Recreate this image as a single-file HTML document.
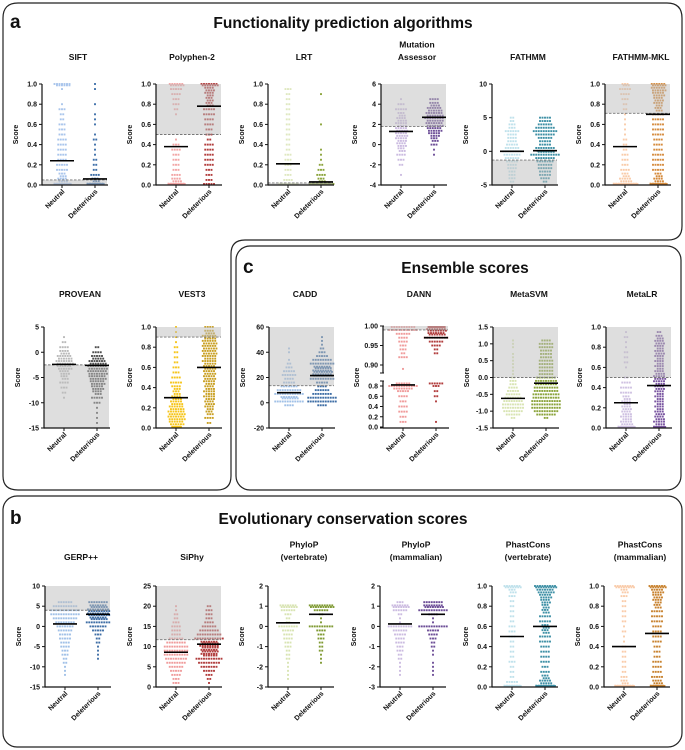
<!DOCTYPE html>
<html><head><meta charset="utf-8">
<style>
html,body{margin:0;padding:0;background:#fff;}
svg{display:block;font-family:"Liberation Sans",Arial,sans-serif;}
.tk{font-size:7px;font-weight:bold;fill:#111;}
.tt{font-size:8.5px;font-weight:bold;fill:#111;}
.sec{font-size:15.5px;font-weight:bold;fill:#111;}
.let{font-size:19px;font-weight:bold;fill:#111;}
</style></head>
<body>
<svg id="fig" width="685" height="750" viewBox="0 0 685 750">
<path d="M18,3 H667 Q682,3 682,18 V226 Q682,240 668,240 H245 Q231,240 231,254 V476 Q231,490 217,490 H18 Q3,490 3,476 V18 Q3,3 18,3 Z" fill="none" stroke="#222" stroke-width="1.2"/>
<rect x="236" y="246" width="445" height="244" rx="14" fill="none" stroke="#222" stroke-width="1.2"/>
<rect x="3" y="496" width="679" height="251" rx="14" fill="none" stroke="#222" stroke-width="1.2"/>
<text class="let" x="10" y="28">a</text>
<text class="sec" x="343" y="28" text-anchor="middle">Functionality prediction algorithms</text>
<text class="let" x="243" y="273">c</text>
<text class="sec" x="465" y="273" text-anchor="middle">Ensemble scores</text>
<text class="let" x="10" y="524">b</text>
<text class="sec" x="343" y="524" text-anchor="middle">Evolutionary conservation scores</text>
</svg>
<script>
// ===== DATA (bin values, point counts per bin, group means, ticks) =====
const unitBins=[0,0.05,0.1,0.15,0.2,0.25,0.3,0.35,0.4,0.45,0.5,0.55,0.6,0.65,0.7,0.75,0.8,0.85,0.9,0.95,1.0];
const unitTicks=[0,0.2,0.4,0.6,0.8,1.0];

const siftNeutral=[14,8,6,5,5,4,4,4,4,4,3,3,3,2,2,3,1,0,0,1,13];
const siftDeleterious=[14,6,4,2,2,2,1,1,1,2,1,0,1,1,1,0,1,0,0,1,1];
const siftMeans=[0.24,0.06];

const polyNeutral=[14,8,4,3,3,3,3,4,3,1,0,0,0,0,1,2,3,3,4,5,12];
const polyDeleterious=[5,3,3,3,4,4,4,4,4,2,3,3,4,4,5,5,6,6,7,8,14];
const polyMeans=[0.38,0.78];

const lrtNeutral=[16,4,3,3,3,3,3,2,2,2,2,2,2,2,2,2,2,2,2,3,0];
const lrtDeleterious=[20,6,4,3,2,1,1,1,0,0,0,0,1,0,0,0,0,0,1,0,0];
const lrtMeans=[0.21,0.03];

const maBins=[-3,-2.5,-2,-1.5,-1,-0.5,0,0.5,1,1.5,2,2.5,3,3.5,4,4.5];
const maNeutral=[1,0,2,3,4,6,8,9,10,10,9,8,6,5,3,1];
const maDeleterious=[0,0,0,0,1,1,3,6,9,12,14,15,14,12,8,4];
const maMeans=[1.3,2.7];
const maTicks=[-4,-2,0,2,4,6];

const fatBins=[-4.5,-4,-3.5,-3,-2.5,-2,-1.5,-1,-0.5,0,0.5,1,1.5,2,2.5,3,3.5,4,4.5,5];
const fatNeutral=[2,3,3,3,4,4,5,6,7,8,6,5,4,4,4,6,3,3,2,2];
const fatDeleterious=[2,4,5,5,6,6,7,8,12,14,8,5,5,6,8,10,8,6,5,5];
const fatMeans=[0,0.1];
const fatTicks=[-5,0,5,10];

const mklNeutral=[20,10,6,4,3,3,3,2,2,2,1,1,1,1,1,2,2,3,4,5,6];
const mklDeleterious=[14,8,6,5,5,5,5,4,4,4,5,5,5,5,5,6,7,8,10,12,12];
const mklMeans=[0.38,0.7];

const provBins=[3,2,1,0,-1,-2,-3,-4,-5,-6,-7,-8,-9,-10,-11,-12,-13,-14];
const provNeutral=[1,2,4,8,12,14,12,8,6,4,3,2,1,0,0,0,0,0];
const provDeleterious=[0,0,2,4,10,14,16,16,14,12,10,7,5,3,1,1,1,1];
const provMeans=[-2.4,-2.6];
const provTicks=[-15,-10,-5,0,5];

const vestNeutral=[8,12,14,14,12,10,8,6,7,5,4,3,3,2,2,2,2,1,1,1,1];
const vestDeleterious=[0,2,4,6,7,8,9,9,8,9,10,10,10,11,11,12,12,12,11,8,4];
const vestMeans=[0.3,0.6];

const caddBins=[-2,1,4,7,10,13,16,19,22,25,28,31,34,37,40,43,46,49,52];
const caddNeutral=[4,12,14,12,10,7,5,4,6,5,3,2,1,0,1,1,0,0,0];
const caddDeleterious=[4,12,12,8,6,4,5,10,16,16,14,10,8,5,3,2,1,1,1];
const caddMeans=[8,21.5];
const caddTicks=[-20,0,20,40,60];

const dannBins=[1.0,0.99,0.98,0.97,0.96,0.95,0.94,0.93,0.92,0.89,0.85,0.8,0.75,0.7,0.6,0.5,0.4,0.3,0.2,0.1];
const dannNeutral=[10,12,6,4,4,3,3,2,4,1,6,12,8,5,4,3,4,4,3,3];
const dannDeleterious=[14,16,14,10,6,4,2,2,0,0,6,3,0,2,2,1,0,0,0,1];
const dannMeans=[0.82,0.97];
const dannTicks=[0,0.2,0.4,0.6,0.8,0.9,0.95,1.0];

const svmBins=[-1.2,-1.1,-1.0,-0.9,-0.8,-0.7,-0.6,-0.5,-0.4,-0.3,-0.2,-0.1,0,0.1,0.2,0.3,0.4,0.5,0.6,0.7,0.8,0.9,1.0,1.1];
const svmNeutral=[2,6,8,9,9,8,7,6,5,4,3,3,2,1,1,1,1,1,1,1,0,1,1,1];
const svmDeleterious=[2,8,10,12,12,12,11,11,10,10,9,9,8,6,6,6,6,6,5,5,5,6,6,4];
const svmMeans=[-0.62,-0.17];
const svmTicks=[-1.5,-1,-0.5,0,0.5,1,1.5];

const lrBins=[0,0.05,0.1,0.15,0.2,0.25,0.3,0.35,0.4,0.45,0.5,0.55,0.6,0.65,0.7,0.75,0.8,0.85,0.9,0.95];
const lrNeutral=[14,10,9,8,8,7,6,5,5,4,2,0,1,2,2,2,1,1,2,1];
const lrDeleterious=[10,9,8,8,7,7,7,7,8,9,10,8,7,7,7,8,7,8,6,2];
const lrMeans=[0.25,0.42];

const gerpBins=[6,5,4,3,2,1,0,-1,-2,-3,-4,-5,-6,-7,-8,-9,-10,-11,-12];
const gerpNeutral=[6,10,12,12,10,8,7,6,5,5,4,4,3,3,2,2,1,1,1];
const gerpDeleterious=[8,14,18,18,14,10,7,5,3,2,2,1,1,1,1,0,0,0,0];
const gerpMeans=[0.6,3];
const gerpTicks=[-15,-10,-5,0,5,10];

const siphyBins=[1,2,3,4,5,6,7,8,9,10,11,12,13,14,15,16,17,18,19,20];
const siphyNeutral=[3,3,4,5,6,8,9,10,10,10,8,6,4,4,4,3,2,2,1,1];
const siphyDeleterious=[1,2,3,5,7,9,11,13,14,15,14,12,10,8,6,4,3,3,3,2];
const siphyMeans=[8.6,10.6];
const siphyTicks=[0,5,10,15,20,25];

const pvBins=[1.0,0.8,0.6,0.4,0.2,0,-0.2,-0.4,-0.6,-0.8,-1.0,-1.2,-1.4,-1.6,-1.8,-2.0,-2.2,-2.4,-2.6];
const pvNeutral=[14,6,3,2,2,8,5,4,4,3,3,2,2,2,1,1,1,1,1];
const pvDeleterious=[20,6,2,1,1,10,4,3,3,2,2,2,1,1,1,0,0,0,0];
const pvMeans=[0.18,0.6];
const phyloTicks=[-3,-2,-1,0,1,2];

const pmBins=[1.2,1.0,0.8,0.6,0.4,0.2,0,-0.2,-0.4,-0.6,-0.8,-1.0,-1.2,-1.4,-1.6,-1.8,-2.0,-2.2,-2.4];
const pmNeutral=[3,14,6,2,1,1,10,6,5,4,4,3,3,2,2,1,1,1,1];
const pmDeleterious=[8,16,12,4,1,1,12,5,4,3,2,2,1,1,0,1,1,1,1];
const pmMeans=[0.12,0.6];

const pcvNeutral=[14,5,2,2,2,3,2,2,2,2,3,3,3,2,2,2,2,2,3,6,14];
const pcvDeleterious=[16,10,6,4,3,4,4,4,4,5,5,6,6,5,5,6,6,8,10,14,18];
const pcvMeans=[0.5,0.6];

const pcmNeutral=[16,6,3,2,2,2,2,2,2,1,1,2,1,2,2,2,2,2,3,6,16];
const pcmDeleterious=[12,8,5,4,4,4,3,3,3,4,4,4,4,5,5,5,6,7,8,10,14];
const pcmMeans=[0.4,0.53];

const categories=["Neutral","Deleterious"];

// ===== RENDER =====
const svg=document.getElementById('fig');
const NS='http://www.w3.org/2000/svg';
function mk(tag,attrs,parent){const e=document.createElementNS(NS,tag);for(const k in attrs)e.setAttribute(k,attrs[k]);(parent||svg).appendChild(e);return e;}

function chart(c){
  const g=mk('g',{});
  
  
  const ax=c.ax,top=c.top,bot=c.bot;
  const y=c.scale||(v=>bot-(v-c.min)/(c.max-c.min)*(bot-top));
  const cx=[ax+20,ax+53];
  const lines=c.title.split('|');
  lines.forEach((t,i)=>{const e=mk('text',{class:'tt',x:ax+36,y:c.ty-(lines.length-1-i)*12.5,'text-anchor':'middle'},g);e.textContent=t;
    });
  [c.neutral,c.deleterious].forEach((counts,gi)=>{
    counts.forEach((n,bi)=>{
      if(!n)return;
      const v=c.bins[bi];const py=y(v);
      const nb=bi+1<c.bins.length?Math.abs(y(c.bins[bi+1])-py):(bi>0?Math.abs(y(c.bins[bi-1])-py):5);
      const h=Math.min(nb,12);
      const rowsMax=Math.max(1,Math.floor(h/2.4));
      const rows=Math.max(Math.ceil(n/12),Math.min(rowsMax,Math.ceil(n/5)));
      for(let r=0;r<rows;r++){
        const k=Math.floor(n/rows)+(r<n%rows?1:0);
        let ry=py+(rows>1?(r/(rows-1)-0.5)*(h-2.4):0);
        ry=Math.max(top,Math.min(bot-1,ry));
        const shift=(r%2)*1.2;
        for(let j=0;j<k;j++){
          const px=cx[gi]+(j-(k-1)/2)*2.5+shift;
          const p=mk('rect',{x:(px-0.95).toFixed(2),y:(ry-0.95).toFixed(2),width:1.9,height:1.9,fill:c.colors[gi]},g);
          
          
        }
      }
    });
  });
  if(c.shade){
    const y1=y(c.shade[1]),y0=y(c.shade[0]);
    const s=mk('rect',{x:ax,y:Math.min(y0,y1),width:65,height:Math.abs(y0-y1),fill:'rgba(190,190,190,0.5)'},g);
    
    const d=mk('line',{x1:ax,x2:ax+65,y1:y(c.cut),y2:y(c.cut),stroke:'#777','stroke-width':0.9,'stroke-dasharray':'2.5,1.5'},g);
    
  }
  c.means.forEach((m,gi)=>{const l=mk('line',{x1:cx[gi]-12,x2:cx[gi]+12,y1:y(m),y2:y(m),stroke:'#000','stroke-width':1.6},g);
    });
  if(c.segments){
    c.segments.forEach(s=>{mk('line',{x1:ax,x2:ax,y1:s[0],y2:s[1],stroke:'#111','stroke-width':1.2},g);
      mk('line',{x1:ax-3,x2:ax+1,y1:s[0],y2:s[0],stroke:'#111','stroke-width':1},g);mk('line',{x1:ax-3,x2:ax+1,y1:s[1],y2:s[1],stroke:'#111','stroke-width':1},g);});
  } else mk('line',{x1:ax,x2:ax,y1:top,y2:bot+0.6,stroke:'#111','stroke-width':1.2},g);
  const xa=mk('line',{x1:ax,x2:ax+66,y1:bot,y2:bot,stroke:'#111','stroke-width':1.2},g);
  
  c.ticks.forEach(t=>{const ty=y(t);mk('line',{x1:ax-3,x2:ax,y1:ty,y2:ty,stroke:'#111','stroke-width':1},g);
    const e=mk('text',{class:'tk',x:ax-5,y:ty+2.5,'text-anchor':'end'},g);
    e.textContent=(c.dec2&&t>=0.9)?t.toFixed(2):t.toFixed(c.dec);
    });
  const sl=mk('text',{class:'tk',x:0,y:0,'text-anchor':'middle',transform:`translate(${ax-24},${(top+bot)/2}) rotate(-90)`},g);
  sl.textContent='Score';
  categories.forEach((cat,gi)=>{mk('line',{x1:cx[gi],x2:cx[gi],y1:bot,y2:bot+3,stroke:'#111','stroke-width':1},g);
    const e=mk('text',{class:'tk','text-anchor':'end',transform:`translate(${cx[gi]+3},${bot+7}) rotate(-45)`},g);
    e.textContent=cat;});
}

const C={sift:['#a9c5ec','#3e6fa9'],poly:['#f2a5a5','#b13c3c'],lrt:['#dfe8c0','#8ba43b'],ma:['#cbbbe0','#6d4e97'],
 fat:['#bfe1eb','#3e90a5'],mkl:['#f9cba9','#d58b3d'],prov:['#b9b9b9','#4e4e4e'],vest:['#f6c51a','#c9a023']};
const T1=84,B1=185,T2=327,B2=428,T3=586,B3=687;
chart({id:'sift',title:'SIFT',ax:42,top:T1,bot:B1,ty:60,min:0,max:1,bins:unitBins,neutral:siftNeutral,deleterious:siftDeleterious,means:siftMeans,ticks:unitTicks,dec:1,colors:C.sift,shade:[0,0.05],cut:0.05});
chart({id:'polyphen2',title:'Polyphen-2',ax:156,top:T1,bot:B1,ty:60,min:0,max:1,bins:unitBins,neutral:polyNeutral,deleterious:polyDeleterious,means:polyMeans,ticks:unitTicks,dec:1,colors:C.poly,shade:[0.5,1],cut:0.5});
chart({id:'lrt',title:'LRT',ax:268,top:T1,bot:B1,ty:60,min:0,max:1,bins:unitBins,neutral:lrtNeutral,deleterious:lrtDeleterious,means:lrtMeans,ticks:unitTicks,dec:1,colors:C.lrt,shade:[0,0.02],cut:0.02});
chart({id:'mutation-assessor',title:'Mutation|Assessor',ax:381,top:T1,bot:B1,ty:60,min:-4,max:6,bins:maBins,neutral:maNeutral,deleterious:maDeleterious,means:maMeans,ticks:maTicks,dec:0,colors:C.ma,shade:[1.8,6],cut:1.8});
chart({id:'fathmm',title:'FATHMM',ax:492,top:T1,bot:B1,ty:60,min:-5,max:10,bins:fatBins,neutral:fatNeutral,deleterious:fatDeleterious,means:fatMeans,ticks:fatTicks,dec:0,colors:C.fat,shade:[-5,-1.3],cut:-1.3});
chart({id:'fathmm-mkl',title:'FATHMM-MKL',ax:605,top:T1,bot:B1,ty:60,min:0,max:1,bins:unitBins,neutral:mklNeutral,deleterious:mklDeleterious,means:mklMeans,ticks:unitTicks,dec:1,colors:C.mkl,shade:[0.71,1],cut:0.71});
chart({id:'provean',title:'PROVEAN',ax:44,top:T2,bot:B2,ty:297,min:-15,max:5,bins:provBins,neutral:provNeutral,deleterious:provDeleterious,means:provMeans,ticks:provTicks,dec:0,colors:C.prov,shade:[-15,-2.5],cut:-2.5});
chart({id:'vest3',title:'VEST3',ax:156,top:T2,bot:B2,ty:297,min:0,max:1,bins:unitBins,neutral:vestNeutral,deleterious:vestDeleterious,means:vestMeans,ticks:unitTicks,dec:1,colors:C.vest,shade:[0.9,1],cut:0.9});
chart({id:'cadd',title:'CADD',ax:269,top:T2,bot:B2,ty:297,min:-20,max:60,bins:caddBins,neutral:caddNeutral,deleterious:caddDeleterious,means:caddMeans,ticks:caddTicks,dec:0,colors:['#a0c0e7','#3f6ea6'],shade:[13.5,60],cut:13.5});
const dannScale=v=>v>=0.875?326+(1-v)*390:427-v*51.25;
chart({id:'dann',title:'DANN',ax:383,top:T2,bot:B2,ty:297,scale:dannScale,segments:[[326,373],[381,428]],bins:dannBins,neutral:dannNeutral,deleterious:dannDeleterious,means:dannMeans,ticks:dannTicks,dec:1,dec2:true,colors:['#f09b9b','#b13c3c'],shade:[0.99,1],cut:0.99});
chart({id:'metasvm',title:'MetaSVM',ax:493,top:T2,bot:B2,ty:297,min:-1.5,max:1.5,bins:svmBins,neutral:svmNeutral,deleterious:svmDeleterious,means:svmMeans,ticks:svmTicks,dec:1,colors:['#d8e4b2','#8ba43b'],shade:[0,1.5],cut:0});
chart({id:'metalr',title:'MetaLR',ax:606,top:T2,bot:B2,ty:297,min:0,max:1,bins:lrBins,neutral:lrNeutral,deleterious:lrDeleterious,means:lrMeans,ticks:unitTicks,dec:1,colors:['#cfc1e2','#7a56a1'],shade:[0.5,1],cut:0.5});
chart({id:'gerp',title:'GERP++',ax:45,top:T3,bot:B3,ty:560,min:-15,max:10,bins:gerpBins,neutral:gerpNeutral,deleterious:gerpDeleterious,means:gerpMeans,ticks:gerpTicks,dec:0,colors:['#a0c0e7','#3f6ea6'],shade:[4,10],cut:4});
chart({id:'siphy',title:'SiPhy',ax:156,top:T3,bot:B3,ty:560,min:0,max:25,bins:siphyBins,neutral:siphyNeutral,deleterious:siphyDeleterious,means:siphyMeans,ticks:siphyTicks,dec:0,colors:['#f09b9b','#b13c3c'],shade:[11.7,25],cut:11.7});
chart({id:'phylop-vertebrate',title:'PhyloP|(vertebrate)',ax:268,top:T3,bot:B3,ty:560,min:-3,max:2,bins:pvBins,neutral:pvNeutral,deleterious:pvDeleterious,means:pvMeans,ticks:phyloTicks,dec:0,colors:['#d8e4b2','#7f9a32']});
chart({id:'phylop-mammalian',title:'PhyloP|(mammalian)',ax:380,top:T3,bot:B3,ty:560,min:-3,max:2,bins:pmBins,neutral:pmNeutral,deleterious:pmDeleterious,means:pmMeans,ticks:phyloTicks,dec:0,colors:['#cbbbe0','#6d4e97']});
chart({id:'phastcons-vertebrate',title:'PhastCons|(vertebrate)',ax:492,top:T3,bot:B3,ty:560,min:0,max:1,bins:unitBins,neutral:pcvNeutral,deleterious:pcvDeleterious,means:pcvMeans,ticks:unitTicks,dec:1,colors:C.fat});
chart({id:'phastcons-mammalian',title:'PhastCons|(mammalian)',ax:604,top:T3,bot:B3,ty:560,min:0,max:1,bins:unitBins,neutral:pcmNeutral,deleterious:pcmDeleterious,means:pcmMeans,ticks:unitTicks,dec:1,colors:['#f9cba9','#c8822f']});
</script>
</body></html>
